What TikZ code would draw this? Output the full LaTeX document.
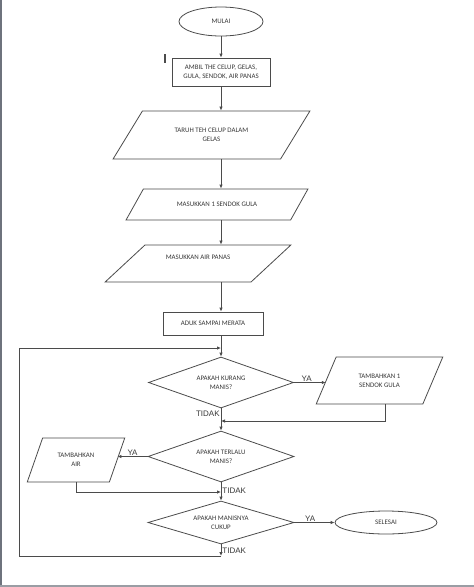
\documentclass[tikz,border=0pt]{standalone}
\usepackage{fontspec}
\newfontfamily\boxfont{Carlito}
\newfontfamily\labfont{Liberation Sans}
\usetikzlibrary{shapes.geometric,arrows.meta}
\definecolor{linie}{RGB}{75,75,75}
\definecolor{schrift}{RGB}{55,55,55}
\definecolor{rand}{RGB}{110,115,125}

\begin{document}
\begin{tikzpicture}[x=1pt, y=-1pt,
	box/.style={draw=linie, line width=0.8pt, text=schrift, font=\boxfont\fontsize{6.9}{9}\selectfont, align=center, inner sep=1pt},
	rechteck/.style={box, rectangle},
	oval/.style={box, ellipse},
	raute/.style={box, diamond, aspect=2.8},
	io/.style={box, trapezium, trapezium stretches=true},
	pfeil/.style={draw=linie, line width=0.8pt, -{Latex[length=4pt,width=3.5pt]}},
	antwort/.style={font=\labfont\fontsize{8}{9}\selectfont, text=schrift, inner sep=1pt}]
	\useasboundingbox (0,0) rectangle (474,587);
	% Rand
	\fill[rand] (0,0) rectangle (2,587);
	\fill[rand!70] (0,585) rectangle (474,587);
	% Schritte
	\node[oval, minimum width=84pt, minimum height=29pt] (mulai) at (221,21.5) {MULAI};
	\node[rechteck, minimum width=98pt, minimum height=28pt] (ambil) at (221,72) {AMBIL THE CELUP, GELAS,\\GULA, SENDOK, AIR PANAS};
	\draw[linie, line width=1.5pt] (165,54) -- (165,63);
	\node[io, trapezium left angle=44, trapezium right angle=136, minimum width=197pt, minimum height=48pt] (taruh) at (211.5,135) {TARUH TEH CELUP DALAM\\GELAS};
	\node[io, trapezium left angle=34, trapezium right angle=146, minimum width=182pt, minimum height=31pt] (gula) at (217,204.5) {MASUKKAN 1 SENDOK GULA};
	\node[io, trapezium left angle=38, trapezium right angle=142, minimum width=186pt, minimum height=37pt] (air) at (198,263.5) {MASUKKAN AIR PANAS\\[4pt]};
	\node[rechteck, minimum width=100pt, minimum height=23pt] (aduk) at (213,323.5) {ADUK SAMPAI MERATA};
	% Abfragen
	\node[raute, minimum width=145pt, minimum height=51pt] (kurang) at (221,382.5) {APAKAH KURANG\\MANIS?};
	\node[io, trapezium left angle=57, trapezium right angle=123, minimum width=127pt, minimum height=47pt] (tambahgula) at (379.5,380.5) {TAMBAHKAN 1\\SENDOK GULA};
	\node[raute, minimum width=146pt, minimum height=51pt] (terlalu) at (221,456.5) {APAKAH TERLALU\\MANIS?};
	\node[io, trapezium left angle=60, trapezium right angle=120, minimum width=98pt, minimum height=44pt] (tambahair) at (76,460) {TAMBAHKAN\\AIR};
	\node[raute, minimum width=146pt, minimum height=43pt] (cukup) at (221,522.5) {APAKAH MANISNYA\\CUKUP};
	\node[oval, minimum width=102pt, minimum height=23pt] (selesai) at (386,522.5) {SELESAI};
	% Hilfspunkte
	\coordinate (m0) at (221,348);
	\coordinate (m1) at (221,421);
	\coordinate (m2) at (221,492);
	\coordinate (m3) at (221,556);
	\coordinate (ecke1) at (19,556);
	\coordinate (ecke2) at (19,348);
	% Pfeile
	\draw[pfeil] (mulai) -- (ambil);
	\draw[pfeil] (ambil.south) -- (ambil.south |- taruh.north);
	\draw[pfeil] (taruh.south -| mulai) -- (gula.north -| mulai);
	\draw[pfeil] (gula.south -| mulai) -- (air.north -| mulai);
	\draw[pfeil] (air.south -| mulai) -- (aduk.north -| mulai);
	\draw[pfeil] (aduk.south -| mulai) -- (kurang.north);
	\draw[pfeil] (kurang.east) -- (kurang.east -| tambahgula.west) node[antwort, pos=0.4, above] {YA};
	\draw[pfeil] ([xshift=5.5pt]tambahgula.south) |- (m1);
	\draw[pfeil] (kurang.south) -- (terlalu.north) node[antwort, pos=0.22, left] {TIDAK};
	\draw[pfeil] (terlalu.west) -- (terlalu.west -| tambahair.east) node[antwort, pos=0.5, above] {YA};
	\draw[pfeil] (tambahair.south) |- (m2);
	\draw[pfeil] (terlalu.south) -- (cukup.north) node[antwort, pos=0.47, right] {TIDAK};
	\draw[pfeil] (cukup.east) -- (selesai.west) node[antwort, pos=0.39, above] {YA};
	\draw[pfeil] (cukup.south) -- (m3) node[antwort, pos=0.58, right] {TIDAK};
	\draw[pfeil] (m3) -- (ecke1) -- (ecke2) -- (m0);
\end{tikzpicture}
\end{document}
